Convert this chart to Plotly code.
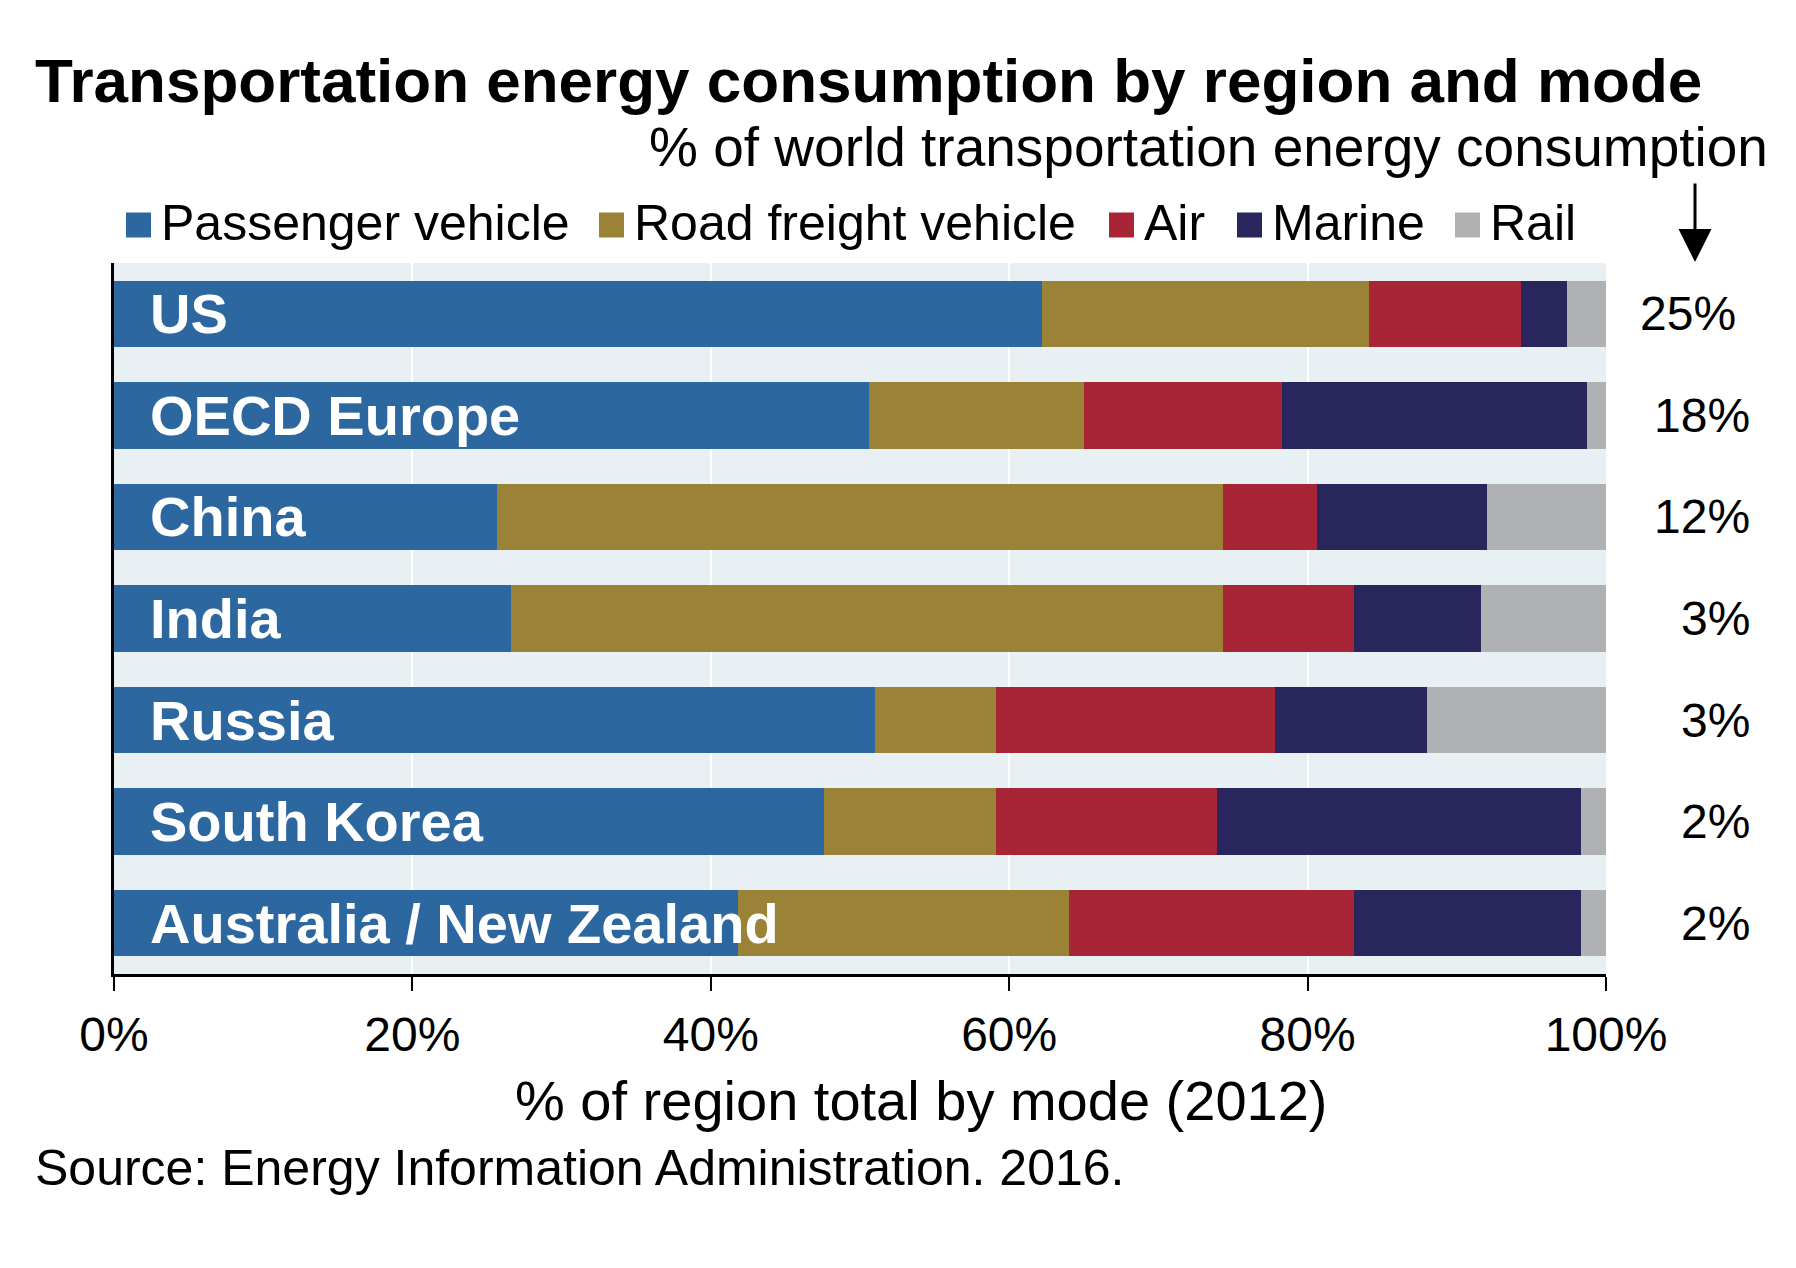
import plotly.graph_objects as go

# ---------------- data ----------------
regions = ["US", "OECD Europe", "China", "India", "Russia", "South Korea", "Australia / New Zealand"]
passenger_vehicle = [62.2, 50.6, 25.7, 26.6, 51.0, 47.6, 41.8]
road_freight_vehicle = [21.9, 14.4, 48.6, 47.7, 8.1, 11.5, 22.2]
air = [10.2, 13.3, 6.3, 8.8, 18.7, 14.8, 19.1]
marine = [3.1, 20.4, 11.4, 8.5, 10.2, 24.4, 15.2]
rail = [2.6, 1.3, 8.0, 8.4, 12.0, 1.7, 1.7]
world_share = ["25%", "18%", "12%", "3%", "3%", "2%", "2%"]
mode_names = ["Passenger vehicle", "Road freight vehicle", "Air", "Marine", "Rail"]
x_ticks = [0, 20, 40, 60, 80, 100]
x_tick_labels = ["0%", "20%", "40%", "60%", "80%", "100%"]

# ---------------- style ----------------
W, H = 1796, 1268
L, R, T, B = 114, 1606, 263, 974
colors = ["#2C67A0", "#9A8236", "#A82535", "#28265C", "#B0B1B3"]
FONT = "Liberation Sans, Arial, Helvetica, sans-serif"

def px(x):
    return (x - L) / (R - L)

def py(y):
    return (B - y) / (B - T)

series = [passenger_vehicle, road_freight_vehicle, air, marine, rail]

fig = go.Figure()
for name, vals, col in zip(mode_names, series, colors):
    fig.add_trace(go.Bar(
        y=regions, x=vals, name=name, orientation="h",
        marker=dict(color=col, line=dict(width=0)),
        hoverinfo="x+name", showlegend=False,
    ))

annotations = []
shapes = []

# region labels inside bars
for r in regions:
    annotations.append(dict(
        x=2.3, y=r, xref="x", yref="y", text=r, showarrow=False,
        xanchor="left", yanchor="middle",
        font=dict(family=FONT, size=56, color="white", weight="bold"),
    ))

# world share labels at right
share_right = [1738, 1752, 1752, 1752, 1752, 1752, 1752]
for r, s, xr in zip(regions, world_share, share_right):
    annotations.append(dict(
        x=px(xr), y=r, xref="paper", yref="y", text=s, showarrow=False,
        xanchor="right", yanchor="middle",
        font=dict(family=FONT, size=48, color="black"),
    ))

# title
annotations.append(dict(
    x=px(33), y=py(80), xref="paper", yref="paper",
    text="<b>Transportation energy consumption by region and mode</b>",
    showarrow=False, xanchor="left", yanchor="middle",
    font=dict(family=FONT, size=62, color="black"),
))
# subtitle
annotations.append(dict(
    x=px(1770), y=py(147), xref="paper", yref="paper",
    text="% of world transportation energy consumption",
    showarrow=False, xanchor="right", yanchor="middle",
    font=dict(family=FONT, size=55, color="black"),
))
# arrow
annotations.append(dict(
    x=px(1695), y=py(262), xref="paper", yref="paper",
    ax=0, ay=-80, axref="pixel", ayref="pixel",
    text="", showarrow=True, arrowhead=2, arrowsize=2.2, arrowwidth=3,
    arrowcolor="black",
))

# legend (manual)
legend_sq_x = [126, 599, 1109, 1237, 1455]
legend_y = 223
sq = 25
for name, col, sx in zip(mode_names, colors, legend_sq_x):
    shapes.append(dict(
        type="rect", xref="paper", yref="paper",
        x0=px(sx), x1=px(sx + sq), y0=py(legend_y + sq / 2 + 2), y1=py(legend_y - sq / 2 + 2),
        fillcolor=col, line=dict(width=0), layer="above",
    ))
    annotations.append(dict(
        x=px(sx + sq + 8), y=py(legend_y), xref="paper", yref="paper",
        text=name, showarrow=False, xanchor="left", yanchor="middle",
        font=dict(family=FONT, size=50, color="black"),
    ))

# x axis title
annotations.append(dict(
    x=px(921), y=py(1100), xref="paper", yref="paper",
    text="% of region total by mode (2012)", showarrow=False,
    xanchor="center", yanchor="middle",
    font=dict(family=FONT, size=56, color="black"),
))
# source
annotations.append(dict(
    x=px(33), y=py(1168), xref="paper", yref="paper",
    text="Source: Energy Information Administration. 2016.", showarrow=False,
    xanchor="left", yanchor="middle",
    font=dict(family=FONT, size=50, color="black"),
))

fig.update_layout(
    width=W, height=H,
    margin=dict(l=L, r=W - R, t=T, b=H - B, pad=0),
    barmode="stack", bargap=0.345,
    plot_bgcolor="#E9F0F4", paper_bgcolor="white",
    font=dict(family=FONT, color="black"),
    annotations=annotations, shapes=shapes,
    showlegend=False,
)
fig.update_xaxes(
    range=[0, 100], tickmode="array", tickvals=x_ticks, ticktext=x_tick_labels,
    showgrid=True, gridcolor="white", gridwidth=2,
    zeroline=False, showline=True, linecolor="black", linewidth=3,
    ticks="outside", ticklen=14, tickwidth=2, tickcolor="black",
    tickfont=dict(family=FONT, size=48, color="black"),
    ticklabelstandoff=2,
)
fig.update_yaxes(
    categoryorder="array", categoryarray=regions,
    range=[6.5, -0.5], showticklabels=False, showgrid=False,
    zeroline=False, showline=True, linecolor="black", linewidth=3, ticks="",
)

fig.write_html("out.html")
